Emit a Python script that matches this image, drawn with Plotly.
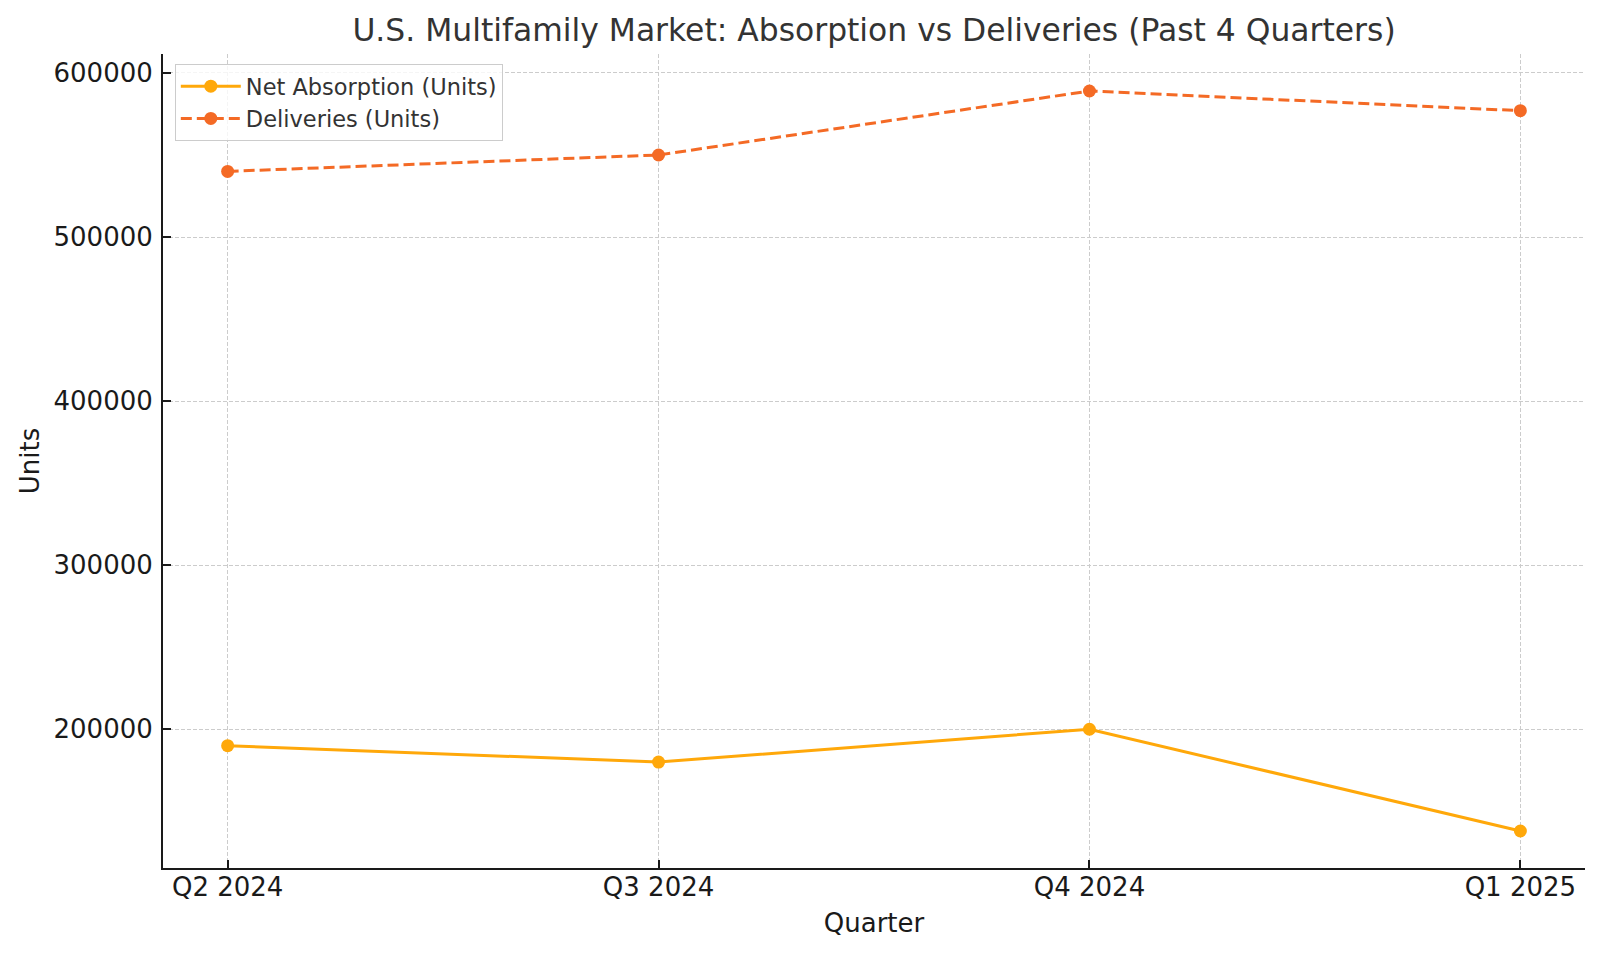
import plotly.graph_objects as go

quarters = ["Q2 2024", "Q3 2024", "Q4 2024", "Q1 2025"]
net_absorption = [190000, 180000, 200000, 138000]
deliveries = [540000, 550000, 589000, 577000]
y_ticks = [200000, 300000, 400000, 500000, 600000]

FONT = "DejaVu Sans"
fig = go.Figure()
fig.add_trace(go.Scatter(
    x=list(range(len(quarters))), y=net_absorption, mode="lines+markers",
    name="Net Absorption (Units)",
    line=dict(color="#FFA80A", width=3),
    marker=dict(color="#FFA80A", size=13),
))
fig.add_trace(go.Scatter(
    x=list(range(len(quarters))), y=deliveries, mode="lines+markers",
    name="Deliveries (Units)",
    line=dict(color="#F46A25", width=3, dash="11px,5px"),
    marker=dict(color="#F46A25", size=13),
))

fig.update_layout(
    width=1600, height=954,
    margin=dict(l=163, r=15, t=54, b=86),
    paper_bgcolor="white", plot_bgcolor="white",
    font=dict(family=FONT, color="#1a1a1a"),
    title=dict(text="U.S. Multifamily Market: Absorption vs Deliveries (Past 4 Quarters)",
               x=0.5, xref="paper", y=1 - 29.6 / 954, yref="container", yanchor="middle",
               font=dict(size=31.4, color="#333333", family=FONT)),
    showlegend=True,
    legend=dict(x=0.0083, y=0.9877, xanchor="left", yanchor="top", itemwidth=60,
                bordercolor="#cccccc", borderwidth=1, bgcolor="rgba(255,255,255,0.8)",
                font=dict(size=22.5, color="#333333", family=FONT)),
)
fig.update_xaxes(
    range=[-0.15, 3.15], tickmode="array", tickvals=list(range(len(quarters))), ticktext=quarters,
    showline=True, linecolor="#1a1a1a", linewidth=2, mirror=False,
    ticks="inside", ticklen=8, tickwidth=1.5, tickcolor="#1a1a1a",
    tickfont=dict(size=26, family=FONT, color="#1a1a1a"), ticklabelstandoff=-5,
    showgrid=True, gridcolor="#cccccc", gridwidth=1, griddash="4px,2px",
    zeroline=False,
    title=dict(text="Quarter", font=dict(size=26, family=FONT, color="#1a1a1a"), standoff=13),
)
fig.update_yaxes(
    range=[115450, 611550], tickmode="array", tickvals=y_ticks, tickformat="d",
    showline=True, linecolor="#1a1a1a", linewidth=2, mirror=False,
    ticks="inside", ticklen=8, tickwidth=1.5, tickcolor="#1a1a1a",
    tickfont=dict(size=26, family=FONT, color="#1a1a1a"), ticklabelstandoff=3,
    showgrid=True, gridcolor="#cccccc", gridwidth=1, griddash="4px,2px",
    zeroline=False,
    title=dict(text="Units", font=dict(size=26, family=FONT, color="#1a1a1a"), standoff=6),
)

fig.write_html("out.html")
